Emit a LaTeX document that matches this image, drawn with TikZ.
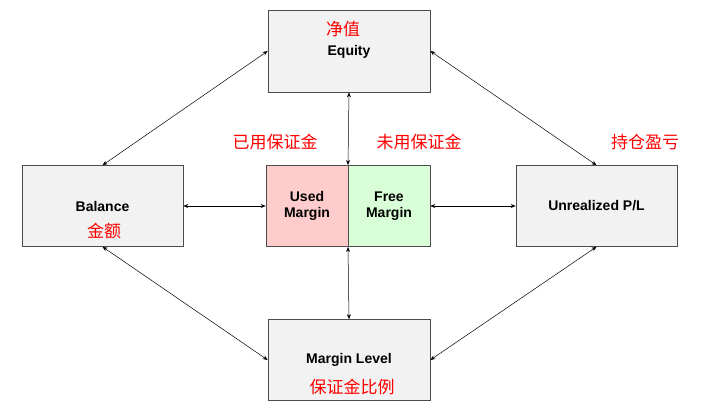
\documentclass[tikz,border=0pt]{standalone}
\usepackage{fontspec}
\setmainfont{Liberation Sans}
\newfontfamily\cjk{Noto Sans CJK SC}
\usetikzlibrary{arrows.meta}
\begin{document}
\begin{tikzpicture}[x=1pt,y=-1pt,
 box/.style={draw=black!70,fill=black!5,line width=0.6pt,inner sep=0,font=\bfseries\fontsize{14}{16}\selectfont,align=center},
 con/.style={{Stealth[length=5pt,width=4pt]}-{Stealth[length=5pt,width=4pt]},line width=0.5pt},
 red/.style={text=red,font=\cjk\fontsize{17}{19}\selectfont}]
\useasboundingbox (0,0) rectangle (713,414);
\node[box,minimum width=162pt,minimum height=82pt] (eq) at (349,51) {};
\node[font=\bfseries\fontsize{14}{16}\selectfont] (eqt) at (349,52) {Equity};
\node[box,minimum width=161pt,minimum height=81pt] (bal) at (102.5,206) {Balance};
\node[box,fill=red!20,minimum width=82pt,minimum height=81pt] (used) at (307,206) {Used\\Margin};
\node[box,fill=green!15,minimum width=82pt,minimum height=81pt] (free) at (389,206) {Free\\Margin};
\node[box,minimum width=161pt,minimum height=81pt] (unr) at (596.5,206) {Unrealized P/L};
\node[box,minimum width=162pt,minimum height=81pt] (ml) at (349,360) {Margin Level};
\coordinate (c) at (348,165);
\coordinate (cb) at (348,247);
\draw[con] (bal.north) -- (eq.west);
\draw[con] (unr.north) -- (eq.east);
\draw[con] (eq.south) -- (c);
\draw[con] (bal.east) -- (used.west);
\draw[con] (free.east) -- (unr.west);
\draw[con] (cb) -- (ml.north);
\draw[con] (bal.south) -- (ml.west);
\draw[con] (unr.south) -- (ml.east);
\node[red] (l1) at (343,29) {净值};
\node[red] (l2) at (275,142) {已用保证金};
\node[red] (l3) at (419,142) {未用保证金};
\node[red] (l4) at (645,142) {持仓盈亏};
\node[red] (l5) at (104,231) {金额};
\node[red] (l6) at (352,387) {保证金比例};
\end{tikzpicture}
\end{document}
